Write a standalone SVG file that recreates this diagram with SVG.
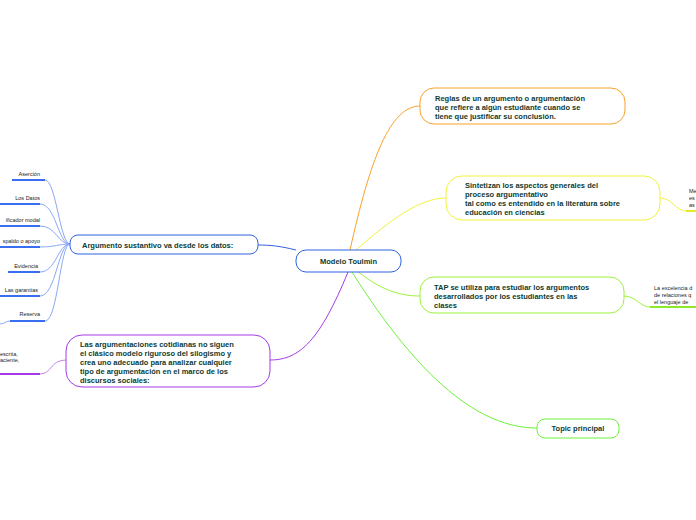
<svg xmlns="http://www.w3.org/2000/svg" width="696" height="520" viewBox="0 0 696 520">
<style>
.t{font-family:"Liberation Sans",Arial,sans-serif;font-weight:bold;font-size:7.5px;fill:#0e3b32}
.s{font-family:"Liberation Sans",Arial,sans-serif;font-size:5.5px;fill:#222}
.c{fill:none;stroke-width:1}
.u{fill:none;stroke-width:2}
.b{fill:#fff;stroke-width:1}
</style>
<rect width="696" height="520" fill="#fff"/>
<g id="connectors">
<path class="c" stroke="#f7a22a" d="M350,250 C370,160 390,106 420,106"/>
<path class="c" stroke="#f1f23a" d="M356,250 C390,220 420,198 446,198"/>
<path class="c" stroke="#9bf23a" d="M356,270 C380,290 400,296 420,296"/>
<path class="c" stroke="#6cf23a" d="M352,272 C420,380 480,428 537,428"/>
<path class="c" stroke="#3062e0" d="M296,250 C280,246 270,245 258,245"/>
<path class="c" stroke="#a33ae6" d="M348,272 C320,340 300,360 270,360"/>
<path class="c" stroke="#f1f23a" d="M660,198 C672,198 676,211 686,211"/>
<path class="c" stroke="#9bf23a" d="M624,296 C636,296 640,307 650,307"/>
<path class="c" stroke="#c78ae6" d="M66,360 C50,360 52,374 40,374"/>
<g stroke="#8aa8f5" class="c">
<path d="M70,244 C60,244 56,180 45,180"/>
<path d="M70,244 C58,244 56,204 40,204"/>
<path d="M70,244 C58,244 56,226 40,226"/>
<path d="M70,244 C58,244 56,247 40,247"/>
<path d="M70,244 C58,244 56,272 40,272"/>
<path d="M70,244 C58,244 56,296 40,296"/>
<path d="M70,244 C60,244 58,321 45,321"/>
<path d="M10,321 C6,321 4,324 0,324"/>
</g>
<g stroke="#3a6ef0" class="u">
<path d="M12,180 H45"/><path d="M0,204 H40"/><path d="M0,226 H40"/><path d="M0,247 H40"/>
<path d="M8,272 H40"/><path d="M0,296 H40"/><path d="M10,321 H45"/>
</g>
<path class="u" stroke="#a33ae6" d="M0,374 H40"/>
<path class="u" stroke="#e8e82a" d="M686,211 H696"/>
<path class="u" stroke="#8ee82a" d="M650,307 H696"/>
</g>
<g id="main"><rect class="b" stroke="#3062e0" x="296" y="250" width="105" height="22" rx="10"/><text class="t" x="348.5" y="264" font-size="9" text-anchor="middle">Modelo Toulmin</text></g>
<g id="n1"><rect class="b" stroke="#f7a22a" x="420" y="88" width="205" height="36" rx="14"/><text class="t" x="435" y="101">Reglas de un argumento o argumentación</text><text class="t" x="435" y="110">que refiere a algún estudiante cuando se</text><text class="t" x="435" y="119">tiene que justificar su conclusión.</text></g>
<g id="n2"><rect class="b" stroke="#f1f23a" x="446" y="176" width="214" height="44" rx="16"/><text class="t" x="465" y="188">Sintetizan los aspectos generales del</text><text class="t" x="465" y="197">proceso argumentativo</text><text class="t" x="465" y="206">tal como es entendido en la literatura sobre</text><text class="t" x="465" y="215">educación en ciencias</text></g>
<g id="n3"><rect class="b" stroke="#9bf23a" x="420" y="277" width="204" height="36" rx="14"/><text class="t" x="434" y="290">TAP se utiliza para estudiar los argumentos</text><text class="t" x="434" y="299">desarrollados por los estudiantes en las</text><text class="t" x="434" y="308">clases</text></g>
<g id="n4"><rect class="b" stroke="#6cf23a" x="537" y="419" width="82" height="19" rx="8"/><text class="t" x="578" y="431" text-anchor="middle">Topic principal</text></g>
<g id="n5"><rect class="b" stroke="#3062e0" x="70" y="235" width="188" height="19" rx="8"/><text class="t" x="82" y="248">Argumento sustantivo va desde los datos:</text></g>
<g id="n6"><rect class="b" stroke="#a33ae6" x="66" y="335" width="204" height="52" rx="16"/><text class="t" x="80" y="347">Las argumentaciones cotidianas no siguen</text><text class="t" x="80" y="356">el clásico modelo riguroso del silogismo y</text><text class="t" x="80" y="365">crea uno adecuado para analizar cualquier</text><text class="t" x="80" y="374">tipo de argumentación en el marco de los</text><text class="t" x="80" y="383">discursos sociales:</text></g>
<g id="leaves">
<text class="s" x="40" y="176" text-anchor="end">Aserción</text>
<text class="s" x="40" y="200" text-anchor="end">Los Datos</text>
<text class="s" x="40" y="222" text-anchor="end">ificador modal</text>
<text class="s" x="40" y="243" text-anchor="end">spaldo o apoyo</text>
<text class="s" x="38" y="268" text-anchor="end">Evidencia</text>
<text class="s" x="38" y="292" text-anchor="end">Las garantías</text>
<text class="s" x="40" y="316" text-anchor="end">Reserva</text>
<text class="s" x="0" y="356">escrita,</text><text class="s" x="0" y="362">aciente,</text>
<text class="s" x="689" y="193">Me</text><text class="s" x="689" y="200">es</text><text class="s" x="689" y="207">as</text>
<text class="s" x="654" y="290">La excelencia d</text><text class="s" x="654" y="297">de relaciones q</text><text class="s" x="654" y="304">el lenguaje de</text>
</g>
</svg>
